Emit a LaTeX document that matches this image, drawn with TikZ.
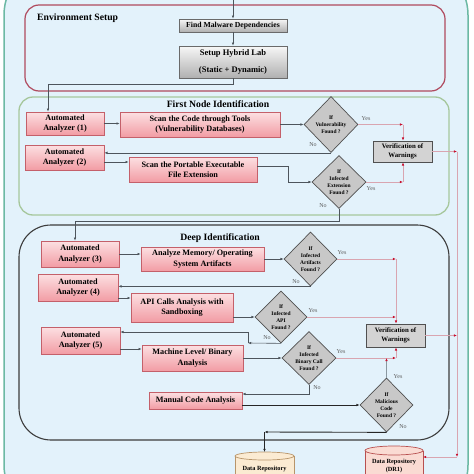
\documentclass[tikz,border=0pt]{standalone}
\usepackage{fontspec}
\setmainfont{Liberation Serif}
\usetikzlibrary{shapes.geometric,arrows.meta,calc,shadows}
\definecolor{bgblue}{HTML}{E3F2FB}
\definecolor{frameteal}{HTML}{6CB9A4}
\definecolor{envred}{HTML}{B04A5E}
\definecolor{fngreen}{HTML}{A6C79C}
\definecolor{deepgrey}{HTML}{3C3C3C}
\definecolor{pinktop}{HTML}{FCE0E2}
\definecolor{pinkbot}{HTML}{F29CA4}
\definecolor{pinkdraw}{HTML}{C4606A}
\definecolor{greytop}{HTML}{F7F7F7}
\definecolor{greybot}{HTML}{B0B0B0}
\definecolor{greydraw}{HTML}{6A6A6A}
\definecolor{dia}{HTML}{C8C8C8}
\definecolor{diadraw}{HTML}{505050}
\definecolor{verfill}{HTML}{D3D3D3}
\definecolor{lineg}{HTML}{4D555C}
\definecolor{redline}{HTML}{D9A5B0}
\definecolor{redtip}{HTML}{C8102E}
\definecolor{labg}{HTML}{5A5A5A}
\definecolor{cyl1fill}{HTML}{FBEBD2}
\definecolor{cyl1draw}{HTML}{B8956A}
\definecolor{cyl2fill}{HTML}{FADBD3}
\definecolor{cyl2draw}{HTML}{B85050}
\definecolor{yesgrey}{HTML}{8A98A0}
\begin{document}
\begin{tikzpicture}[x=1pt,y=-1pt,
  pinkbox/.style={draw=pinkdraw, line width=0.6pt, top color=pinktop, bottom color=pinkbot,
    font=\fontsize{8.2}{10.5}\selectfont\bfseries, align=center, inner sep=0pt,
    drop shadow={shadow xshift=0.8pt, shadow yshift=-0.8pt, fill=black!35}},
  greybox/.style={draw=greydraw, line width=0.6pt, top color=greytop, bottom color=greybot,
    align=center, inner sep=0pt,
    drop shadow={shadow xshift=0.8pt, shadow yshift=-0.8pt, fill=black!35}},
  diam/.style={diamond, draw=diadraw, fill=dia, line width=0.7pt,
    font=\fontsize{5.5}{7.2}\selectfont\bfseries, align=center, inner sep=0pt},
  verif/.style={draw=diadraw, fill=verfill, line width=0.7pt,
    font=\fontsize{6.8}{8.8}\selectfont\bfseries, align=center, inner sep=0pt},
  titletext/.style={font=\fontsize{9.7}{11}\selectfont\bfseries, inner sep=0pt},
  arr/.style={draw=lineg, line width=0.6pt, -{Latex[length=3.2pt,width=2.6pt]}},
  blkarr/.style={draw=black!85, line width=0.9pt, -{Latex[length=3.2pt,width=2.6pt]}},
  rarr/.style={draw=redline, line width=0.7pt, -{Latex[length=3.2pt,width=2.6pt,color=redtip]}},
  lab/.style={font=\fontsize{6}{6}\selectfont, text=labg, inner sep=0pt},
  cyltext/.style={font=\fontsize{6.3}{8}\selectfont\bfseries, align=center, inner sep=0pt}
]
\useasboundingbox (0,0) rectangle (474,474);
\begin{scope}
\clip (0,0) rectangle (474,474);
\fill[white] (0,0) rectangle (474,474);
\draw[frameteal, line width=1.5pt, fill=bgblue, rounded corners=55pt] (4,-40) rectangle (468,520);

% group frames
\draw[envred, line width=1.2pt, rounded corners=14pt] (25,5) rectangle (445,91);
\draw[fngreen, line width=1.3pt, rounded corners=14pt] (19,97) rectangle (449,215);
\draw[deepgrey, line width=1.1pt, rounded corners=32pt] (19,225) rectangle (449,440);

\node[titletext, anchor=west] (tenv) at (37,18) {Environment Setup};
\node[titletext] (tfn) at (218,104) {First Node Identification};
\node[titletext] (tdeep) at (220,238) {Deep Identification};

% environment setup
\coordinate (top) at (233,0);
\node[greybox, minimum width=108pt, minimum height=13pt, font=\fontsize{7.7}{9}\selectfont\bfseries] (fmd) at (233,25.5) {Find Malware Dependencies};
\node[greybox, minimum width=108pt, minimum height=32pt, font=\fontsize{8.5}{17}\selectfont\bfseries] (shl) at (233,62) {Setup Hybrid Lab\\(Static + Dynamic)};

% first node identification
\node[pinkbox, minimum width=78pt, minimum height=23pt] (a1) at (65,123.5) {Automated\\Analyzer (1)};
\node[pinkbox, minimum width=160pt, minimum height=25pt] (sc) at (200,124.5) {Scan the Code through Tools\\(Vulnerability Databases)};
\node[diam, minimum width=54pt, minimum height=56pt] (d1) at (331,124.5) {If\\Vulnerability\\Found ?};
\node[verif, minimum width=59pt, minimum height=21pt] (v1) at (402.5,151.5) {Verification of\\Warnings};
\node[pinkbox, minimum width=79pt, minimum height=25pt] (a2) at (64.5,157.5) {Automated\\Analyzer (2)};
\node[pinkbox, minimum width=128pt, minimum height=25pt] (spe) at (193,169.5) {Scan the Portable Executable\\File Extension};
\node[diam, minimum width=54pt, minimum height=53pt] (d2) at (339,182) {If\\Infected\\Extension\\Found ?};

% deep identification
\node[pinkbox, minimum width=78pt, minimum height=26pt] (a3) at (80,254) {Automated\\Analyzer (3)};
\node[pinkbox, minimum width=123pt, minimum height=24pt] (mem) at (202.5,259) {Analyze Memory/ Operating\\System Artifacts};
\node[diam, minimum width=53pt, minimum height=54pt] (d3) at (310.5,259) {If\\Infected\\Artifacts\\Found ?};
\node[pinkbox, minimum width=80pt, minimum height=27pt] (a4) at (78,287.5) {Automated\\Analyzer (4)};
\node[pinkbox, minimum width=102pt, minimum height=29pt] (api) at (182,307.5) {API Calls Analysis with\\Sandboxing};
\node[diam, minimum width=52pt, minimum height=52pt] (d4) at (281,317) {If\\Infected\\API\\Found ?};
\node[verif, minimum width=59pt, minimum height=23pt] (v2) at (395.5,335.5) {Verification of\\Warnings};
\node[pinkbox, minimum width=79pt, minimum height=27pt] (a5) at (80.5,340.5) {Automated\\Analyzer (5)};
\node[pinkbox, minimum width=101pt, minimum height=26pt] (mlb) at (192.5,358) {Machine Level/ Binary\\Analysis};
\node[diam, minimum width=54pt, minimum height=52pt] (d5) at (309,358) {If\\Infected\\Binary Call\\Found ?};
\node[pinkbox, minimum width=93pt, minimum height=17pt] (man) at (195.5,400.5) {Manual Code Analysis};
\node[diam, minimum width=53pt, minimum height=54pt] (d6) at (386.5,405) {If\\Malicious\\Code\\Found ?};

% cylinders
\fill[cyl1fill] (235,456) rectangle (294,490);
\draw[cyl1draw, line width=0.7pt] (235,456) -- (235,490) (294,456) -- (294,490);
\filldraw[fill=cyl1fill, draw=cyl1draw, line width=0.7pt] (264.5,456) ellipse [x radius=29.5pt, y radius=4pt];
\node[cyltext] (dr) at (264.5,469) {Data Repository};
\coordinate (drtop) at (264.5,452);

\fill[cyl2fill] (365,450.5) rectangle (423,490);
\draw[cyl2draw, line width=0.7pt] (365,450.5) -- (365,490) (423,450.5) -- (423,490);
\filldraw[fill=cyl2fill, draw=cyl2draw, line width=0.7pt] (394,450.5) ellipse [x radius=29pt, y radius=4.5pt];
\node[cyltext] (dr1) at (394,466) {Data Repository\\(DR1)};
\coordinate (dr1r) at (423,457);

% connectors: environment
\draw[arr] (top) -- (fmd.north);
\draw[arr] (fmd.south) -- (shl.north);
\coordinate (c1) at (48,84);
\draw[arr] (shl.south) |- (c1) -- (c1 |- a1.north);

% first node
\draw[arr] (a1.east) -- (a1.east -| sc.west);
\draw[arr] (sc.east) -- (sc.east -| d1.west);
\coordinate (ry1) at (403,124.5);
\coordinate (ry2) at (403,182);
\draw[rarr] (d1.east) -- (ry1);
\draw[rarr] (ry1) -- (ry1 |- v1.north);
\draw[arr] (d1.south) -- (d1.south -| a2.east);
\draw[arr] ($(a2.east)+(0,4.5)$) -- ($(a2.east -| spe.west)+(0,4.5)$);
\draw[arr] ($(spe.east)+(0,-3.5)$) -- ++(31,0) |- (d2.west);
\draw[rarr] (d2.east) -- (ry2);
\draw[rarr] (ry2) -- (ry2 |- v1.south);
\coordinate (c2) at (75,221);
\draw[arr] (d2.south) |- (c2) -- (c2 |- a3.north);

% right red bus
\coordinate (rv1) at (457,151.5);
\coordinate (rvb) at (457,457);
\draw[rarr] (v1.east) -- (rv1);
\draw[rarr] (rv1) -- (rvb);
\draw[rarr] (rvb) -- (dr1r);
\draw[rarr] (v2.east) -- (v2.east -| rv1);

% deep identification
\draw[arr] (a3.east) -- (a3.east -| mem.west);
\draw[arr] (mem.east) -- (d3.west);
\coordinate (ry3) at (396,259);
\coordinate (ry4) at (396,317);
\coordinate (ry5) at (396,358);
\draw[rarr] (d3.east) -- (ry3);
\draw[rarr] (ry3) -- (ry3 |- v2.north);
\draw[arr] (d3.south) -- (d3.south -| a4.east);
\draw[arr] ($(a4.east)+(0,10.5)$) -- ($(a4.east -| api.west)+(0,10.5)$);
\draw[arr] (d4.west -| api.east) -- (d4.west);
\draw[rarr] (d4.east) -- (ry4);
\coordinate (c4) at (248,343);
\coordinate (c4b) at (248,332);
\draw[arr] (d4.south) -- (c4);
\draw[arr] (c4) -- (c4b) -- (c4b -| a5.east);
\draw[arr] ($(a5.east)+(0,8.5)$) -- ($(a5.east -| mlb.west)+(0,8.5)$);
\draw[arr] (d5.west -| mlb.east) -- (d5.west);
\draw[rarr] (d5.east) -- (ry5);
\draw[rarr] (ry5) -- (ry5 |- v2.south);
\draw[arr] (d5.south) |- ($(man.east)+(0,-6.5)$);
\draw[blkarr] (d6.west -| man.east) -- (d6.west);
\draw[rarr, draw=yesgrey] (d6.north) -- (d6.north |- ry5);
\coordinate (c6) at (264.5,432);
\draw[blkarr] (d6.south) -- (c6);
\draw[blkarr] (c6) -- (drtop);

% yes / no labels
\node[lab] (y1) at (366,119) {Yes};
\node[lab] (n1) at (313,145) {No};
\node[lab] (y2) at (371,189) {Yes};
\node[lab] (n2) at (323,206) {No};
\node[lab] (y3) at (342,253) {Yes};
\node[lab] (n3) at (296,282) {No};
\node[lab] (y4) at (313,311) {Yes};
\node[lab] (n4) at (267,338) {No};
\node[lab] (y5) at (341,352) {Yes};
\node[lab] (n5) at (317,388) {No};
\node[lab] (y6) at (398,377) {Yes};
\node[lab] (n6) at (403,427) {No};
\end{scope}
\end{tikzpicture}
\end{document}
